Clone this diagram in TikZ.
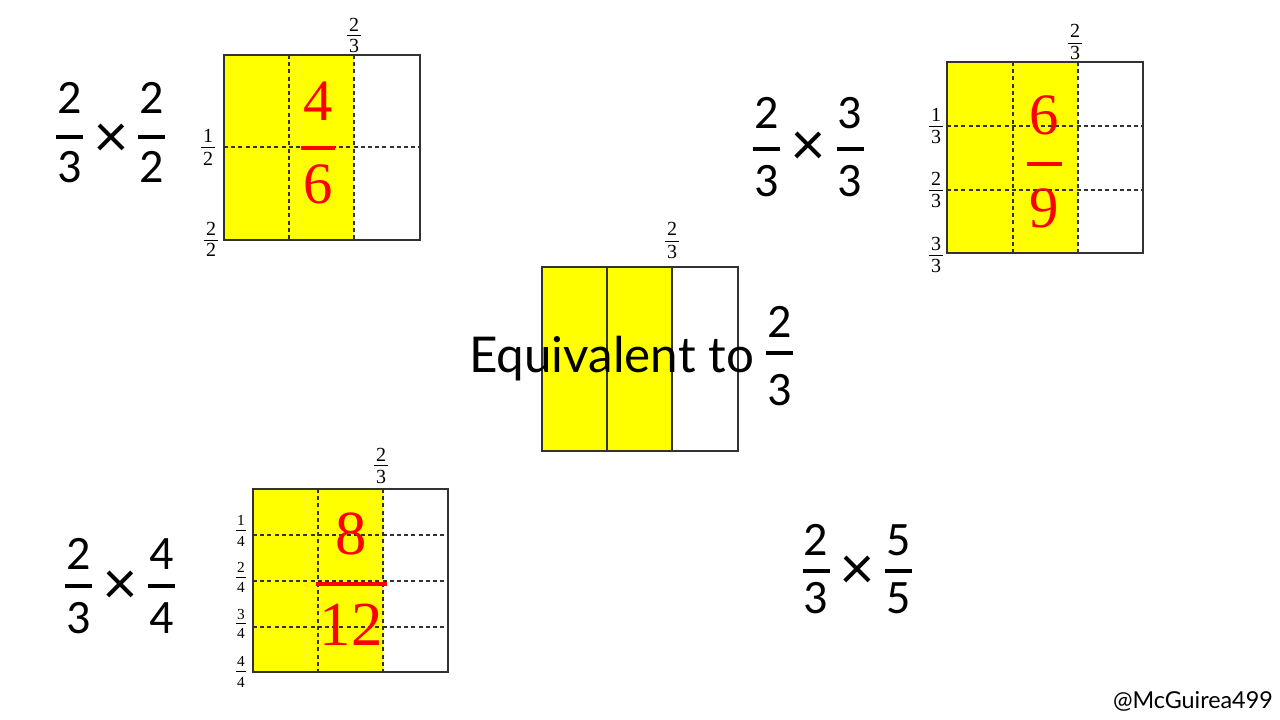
\documentclass[tikz,border=0pt]{standalone}
\usepackage{fontspec}
\newfontfamily\calib{Carlito}
\newfontfamily\gill{Lato}
\newfontfamily\serifd{Liberation Serif}
\definecolor{rd}{RGB}{255,0,0}
\definecolor{yl}{RGB}{255,255,0}
\definecolor{edge}{RGB}{50,50,50}
\tikzset{
  big/.style={font=\calib\fontsize{36}{36}\selectfont, inner sep=0pt},
  bigbar/.style={line width=3pt},
  times/.style={font=\calib\fontsize{48}{48}\selectfont, inner sep=0pt},
  redf/.style={text=rd, font=\serifd\fontsize{44}{44}\selectfont, inner sep=0pt},
  redfbar/.style={draw=rd, line width=3.2pt},
  redl/.style={text=rd, font=\serifd\fontsize{47}{47}\selectfont, inner sep=0pt},
  redlbar/.style={draw=rd, line width=3.4pt},
  lab/.style={font=\serifd\fontsize{15}{15}\selectfont, inner sep=0pt},
  labbar/.style={line width=0.7pt},
  qlab/.style={font=\serifd\fontsize{11.5}{11.5}\selectfont, inner sep=0pt},
  qlabbar/.style={line width=0.6pt},
  grid/.style={draw=edge, line width=1.1pt, dash pattern=on 3pt off 2.4pt},
  solidgrid/.style={draw=edge, line width=1.1pt},
  boxedge/.style={draw=edge, line width=1.5pt},
}
% name, x, ynum, ybar, yden, num, den, style, half bar width
\newcommand\fr[9]{%
  \node[#8] (#1n) at (#2,#3) {#6};
  \node[#8] (#1d) at (#2,#5) {#7};
  \draw[#8bar] (#2-#9,#4) -- (#2+#9,#4);}
\begin{document}
\begin{tikzpicture}[x=0.75pt,y=-0.75pt]
\fill[white] (0,0) rectangle (1280,720);
\useasboundingbox (0,0) rectangle (1280,720);

% ---------- box 1 (halves) ----------
\fill[yl] (224,55) rectangle (354,240);
\draw[grid] (289,55) -- (289,240);
\draw[grid] (354,55) -- (354,240);
\draw[grid] (224,147) -- (420,147);
\draw[boxedge] (224,55) rectangle (420,240);
\fr{la}{354}{25}{35}{46}{2}{3}{lab}{7}
\fr{lb}{208}{136}{147}{159}{1}{2}{lab}{7}
\fr{lc}{211}{229}{240}{250}{2}{2}{lab}{7}
\fr{ra}{318}{101}{148}{184}{4}{6}{redf}{17}

% ---------- box 2 (thirds) ----------
\fill[yl] (947,62) rectangle (1078,253);
\draw[grid] (1013,62) -- (1013,253);
\draw[grid] (1078,62) -- (1078,253);
\draw[grid] (947,126) -- (1143,126);
\draw[grid] (947,190) -- (1143,190);
\draw[boxedge] (947,62) rectangle (1143,253);
\fr{ma}{1075}{31}{43}{53}{2}{3}{lab}{7}
\fr{mb}{936}{115}{126}{137}{1}{3}{lab}{7}
\fr{mc}{936}{179}{190}{201}{2}{3}{lab}{7}
\fr{md}{936}{244}{255}{266}{3}{3}{lab}{7}
\fr{rb}{1044}{115}{164}{208}{6}{9}{redf}{17.5}

% ---------- box 3 (quarters) ----------
\fill[yl] (253,489) rectangle (383,672);
\draw[grid] (318,489) -- (318,672);
\draw[grid] (383,489) -- (383,672);
\draw[grid] (253,535) -- (448,535);
\draw[grid] (253,581) -- (448,581);
\draw[grid] (253,627) -- (448,627);
\draw[boxedge] (253,489) rectangle (448,672);
\fr{qa}{381}{455}{465}{477}{2}{3}{lab}{7}
\fr{qb}{241}{520}{530}{541}{1}{4}{qlab}{5}
\fr{qc}{241}{567}{577}{587}{2}{4}{qlab}{5}
\fr{qd}{241}{614}{623}{633}{3}{4}{qlab}{5}
\fr{qe}{241}{661}{671}{682}{4}{4}{qlab}{5}
\fr{rc}{351}{534}{584}{625}{8}{12}{redl}{35.5}

% ---------- centre box ----------
\fill[yl] (542,267) rectangle (672,451);
\draw[solidgrid] (607,267) -- (607,451);
\draw[solidgrid] (672,267) -- (672,451);
\draw[boxedge] (542,267) rectangle (738,451);
\fr{ca}{672}{229}{241}{252}{2}{3}{lab}{7}
\node[anchor=base west, inner sep=0pt, font=\gill\fontsize{37}{37}\selectfont] (eq) at (469,372) {Equivalent to};
\fr{cb}{779.5}{322}{353}{390}{2}{3}{big}{13.5}

% ---------- products ----------
\fr{ea}{69.5}{98}{137}{167}{2}{3}{big}{13.5}
\node[times] (ex) at (111,141) {×};
\fr{eb}{151.5}{98}{137}{167}{2}{2}{big}{13.5}

\fr{fa}{766.5}{113}{149}{181}{2}{3}{big}{13.5}
\node[times] (fx) at (808,149) {×};
\fr{fb}{850}{113}{149}{181}{3}{3}{big}{13.5}

\fr{ga}{78.5}{554}{586}{618}{2}{3}{big}{13.5}
\node[times] (gx) at (120,588) {×};
\fr{gb}{161.5}{554}{586}{618}{4}{4}{big}{13.5}

\fr{ha}{816}{540}{571}{598}{2}{3}{big}{13.5}
\node[times] (hx) at (857,573) {×};
\fr{hb}{898.5}{540}{571}{598}{5}{5}{big}{13.5}

\node[anchor=base east, inner sep=0pt, font=\gill\fontsize{17.5}{17.5}\selectfont] (wm) at (1273,708) {@McGuirea499};
\end{tikzpicture}
\end{document}
